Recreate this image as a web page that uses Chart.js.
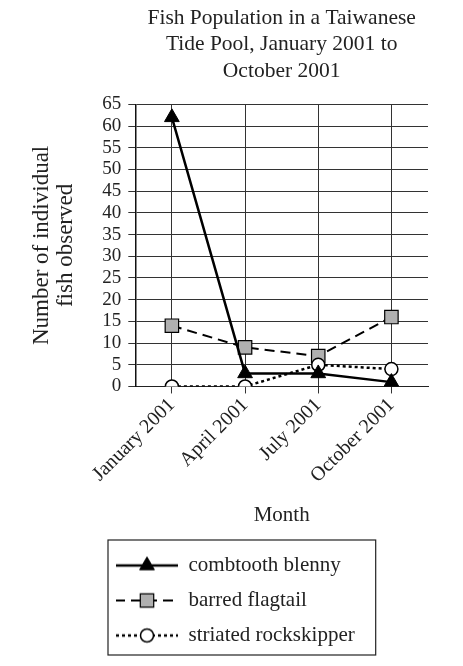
<!DOCTYPE html>
<html>
<head>
<meta charset="utf-8">
<script src="https://cdn.jsdelivr.net/npm/chart.js@4.4.1/dist/chart.umd.min.js"></script>
<style>
  html, body { margin: 0; padding: 0; background: #fff; }
  #wrap { width: 463px; height: 666px; }
</style>
</head>
<body>
<div id="wrap"><canvas id="grafico"></canvas></div>
<script>
// ================= DADOS =================
const meses = ["January 2001", "April 2001", "July 2001", "October 2001"];
const combtoothBlenny = [62, 3, 3, 1];
const barredFlagtail = [14, 9, 7, 16];
const striatedRockskipper = [0, 0, 5, 4];
const yTicks = [0, 5, 10, 15, 20, 25, 30, 35, 40, 45, 50, 55, 60, 65];

const SERIF = "'Liberation Serif', 'DejaVu Serif', serif";

// ================= AMOSTRA DA LEGENDA =================
// linha + marcador desenhados num canvas pequeno, usado como pointStyle
function amostra(ds) {
  const c = document.createElement("canvas");
  c.width = 62;
  c.height = 20;
  const g = c.getContext("2d");
  const cx = 31, cy = 10, r = ds.pointRadius;
  g.strokeStyle = "#000";
  g.lineWidth = ds.borderWidth;
  g.setLineDash(ds.borderDash || []);
  g.lineDashOffset = ds.legendDashOffset || 0;
  g.beginPath();
  g.moveTo(0, cy);
  g.lineTo(c.width, cy);
  g.stroke();
  g.setLineDash([]);
  g.fillStyle = ds.pointBackgroundColor;
  g.lineWidth = ds.pointBorderWidth;
  g.beginPath();
  if (ds.pointStyle === "triangle") {
    for (let k = 0; k < 3; k++) {
      const a = k * 2 * Math.PI / 3;
      g.lineTo(cx + Math.sin(a) * r, cy - Math.cos(a) * r);
    }
    g.closePath();
  } else if (ds.pointStyle === "rect") {
    const s = Math.SQRT1_2 * r;
    g.rect(cx - s, cy - s, 2 * s, 2 * s);
  } else {
    g.arc(cx, cy, r, 0, 2 * Math.PI);
  }
  g.fill();
  g.stroke();
  return c;
}

// ================= MOLDURA DA LEGENDA =================
const molduraLegenda = {
  id: "molduraLegenda",
  afterUpdate(chart) {
    const lg = chart.legend;
    const dx = 116 - (lg.left + lg.options.labels.padding);
    lg.left += dx;
    lg.right += dx;
    lg.legendHitBoxes.forEach(h => { h.left += dx; });
  },
  afterDraw(chart) {
    const lg = chart.legend;
    const boxes = lg.legendHitBoxes;
    const esq = Math.min(...boxes.map(h => h.left)) - 8;
    const dir = Math.max(...boxes.map(h => h.left + h.width)) + 21;
    const ctx = chart.ctx;
    ctx.save();
    ctx.strokeStyle = "#222";
    ctx.lineWidth = 1.2;
    ctx.strokeRect(esq, lg.top - 1, dir - esq, lg.bottom - lg.top);
    ctx.restore();
  }
};

// ================= GRÁFICO =================
const datasets = [
  {
    label: "combtooth blenny",
    data: combtoothBlenny,
    borderColor: "#000",
    borderWidth: 2.5,
    pointStyle: "triangle",
    pointRadius: 8.5,
    pointBackgroundColor: "#000",
    pointBorderColor: "#000",
    pointBorderWidth: 1,
    order: 0
  },
  {
    label: "barred flagtail",
    data: barredFlagtail,
    borderColor: "#000",
    borderWidth: 2,
    borderDash: [10, 6],
    legendDashOffset: 1,
    pointStyle: "rect",
    pointRadius: 9.5,
    pointBackgroundColor: "#b0b0b0",
    pointBorderColor: "#000",
    pointBorderWidth: 1.2,
    order: 2
  },
  {
    label: "striated rockskipper",
    data: striatedRockskipper,
    borderColor: "#000",
    borderWidth: 2.5,
    borderDash: [3, 3],
    pointStyle: "circle",
    pointRadius: 6.5,
    pointBackgroundColor: "#fff",
    pointBorderColor: "#000",
    pointBorderWidth: 1.5,
    order: 1
  }
];
datasets.forEach(d => { d.tension = 0; d.pointHoverRadius = d.pointRadius; });

const ctx = document.getElementById("grafico");

new Chart(ctx, {
  type: "line",
  data: { labels: meses, datasets: datasets },
  options: {
    responsive: true,
    maintainAspectRatio: false,
    animation: false,
    layout: { padding: { left: 30, right: 35, top: 5, bottom: 10 } },
    plugins: {
      title: {
        display: true,
        fullSize: false,
        text: ["Fish Population in a Taiwanese", "Tide Pool, January 2001 to", "October 2001"],
        color: "#222",
        font: { family: SERIF, size: 21.5, weight: "normal", lineHeight: 1.23 },
        padding: { top: 0, bottom: 20 }
      },
      legend: {
        position: "bottom",
        fullSize: false,
        align: "start",
        labels: {
          color: "#222",
          font: { family: SERIF, size: 21 },
          padding: 14,
          usePointStyle: true,
          pointStyleWidth: 62,
          sort: (a, b) => a.datasetIndex - b.datasetIndex,
          generateLabels(chart) {
            const itens = Chart.defaults.plugins.legend.labels.generateLabels(chart);
            itens.forEach(it => { it.pointStyle = amostra(chart.data.datasets[it.datasetIndex]); });
            return itens;
          }
        }
      },
      tooltip: { enabled: false }
    },
    scales: {
      x: {
        offset: true,
        grid: { color: "#333", lineWidth: 1, tickLength: 7 },
        border: { color: "#222", width: 1 },
        ticks: {
          color: "#222",
          font: { family: SERIF, size: 20 },
          minRotation: 45,
          maxRotation: 45,
          padding: 0
        },
        title: {
          display: true,
          text: "Month",
          color: "#222",
          font: { family: SERIF, size: 21 },
          padding: { top: 15, bottom: 13 }
        }
      },
      y: {
        min: yTicks[0],
        max: yTicks[yTicks.length - 1],
        afterBuildTicks(axis) {
          axis.ticks = yTicks.map(v => ({ value: v }));
        },
        grid: { color: "#333", lineWidth: 1, tickLength: 7 },
        border: { color: "#111", width: 1.5 },
        ticks: {
          color: "#222",
          font: { family: SERIF, size: 19, lineHeight: 1 },
          autoSkip: false,
          padding: 7
        },
        title: {
          display: true,
          text: ["Number of individual", "fish observed"],
          color: "#222",
          font: { family: SERIF, size: 23, lineHeight: 1.05 },
          padding: { top: 0, bottom: 17 }
        }
      }
    }
  },
  plugins: [molduraLegenda]
});
</script>
</body>
</html>
